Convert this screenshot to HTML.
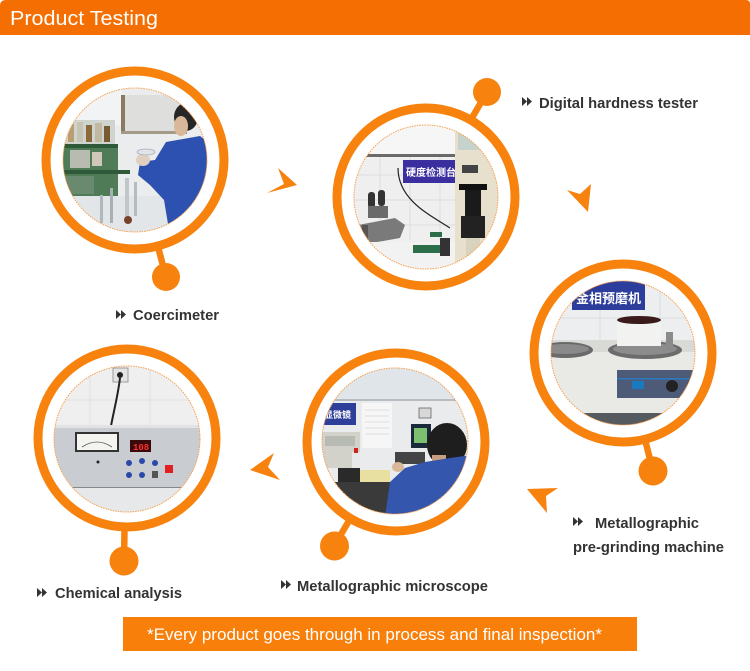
<!DOCTYPE html>
<html>
<head>
<meta charset="utf-8">
<style>
html,body{margin:0;padding:0;background:#fff;}
svg{display:block;}
</style>
</head>
<body>
<svg width="750" height="671" viewBox="0 0 750 671" xmlns="http://www.w3.org/2000/svg">
<defs>
  <clipPath id="p1"><circle cx="135" cy="160" r="72"/></clipPath>
  <clipPath id="p2"><circle cx="426" cy="197" r="72"/></clipPath>
  <clipPath id="p3"><circle cx="623" cy="353" r="72"/></clipPath>
  <clipPath id="p4"><circle cx="395" cy="441" r="73"/></clipPath>
  <clipPath id="p5"><circle cx="127" cy="439" r="73"/></clipPath>
</defs>
<rect width="750" height="671" fill="#fff"/>

<!-- Header -->
<path d="M0,6 Q0,0 6,0 L746,0 Q750,0 750,4 L750,35 L0,35 Z" fill="#f56e02"/>
<text x="10" y="25" font-family="Liberation Sans, sans-serif" font-size="20.5" fill="#fff" textLength="148" lengthAdjust="spacingAndGlyphs">Product Testing</text>

<!-- Stems -->
<g stroke="#f7820e" stroke-width="6.5" stroke-linecap="round">
  <line x1="135" y1="160" x2="166" y2="277"/>
  <line x1="426" y1="197" x2="487" y2="92"/>
  <line x1="623" y1="353" x2="653" y2="471"/>
  <line x1="396" y1="442" x2="334" y2="546"/>
  <line x1="126" y1="439" x2="124" y2="561"/>
</g>
<g fill="#f7820e">
  <circle cx="166" cy="277" r="14"/>
  <circle cx="487" cy="92" r="14"/>
  <circle cx="653" cy="471" r="14.5"/>
  <circle cx="334.5" cy="546" r="14.5"/>
  <circle cx="124" cy="561" r="14.5"/>
</g>
<!-- Rings -->
<g fill="#fff" stroke="#f7820e" stroke-width="9">
  <circle cx="135" cy="160" r="89"/>
  <circle cx="426" cy="197" r="89"/>
  <circle cx="623" cy="353" r="89"/>
  <circle cx="396" cy="442" r="89"/>
  <circle cx="127" cy="438" r="89"/>
</g>

<!-- Photo 1: lab chemist -->
<g clip-path="url(#p1)">
  <rect x="60" y="85" width="150" height="150" fill="#eaecee"/>
  <rect x="60" y="85" width="62" height="40" fill="#f2f3f4"/>
  <rect x="121" y="95" width="66" height="38" fill="#dedfdc"/>
  <rect x="121" y="95" width="4" height="38" fill="#8a7a60"/>
  <rect x="121" y="131" width="66" height="3" fill="#a59a88"/>
  <rect x="60" y="120" width="55" height="24" fill="#cfd4cf"/>
  <rect x="68" y="124" width="6" height="18" fill="#b9a074"/>
  <rect x="77" y="122" width="6" height="20" fill="#c8c4b4"/>
  <rect x="86" y="125" width="6" height="17" fill="#8a6a3a"/>
  <rect x="95" y="123" width="7" height="19" fill="#c0b8a0"/>
  <rect x="104" y="126" width="6" height="16" fill="#7a5a30"/>
  <rect x="60" y="144" width="58" height="52" fill="#4f7c56"/>
  <rect x="60" y="144" width="58" height="4" fill="#2f5a3a"/>
  <rect x="60" y="170" width="70" height="4" fill="#2f5a3a"/>
  <rect x="70" y="150" width="20" height="18" fill="#b8bcb0"/>
  <rect x="92" y="152" width="10" height="14" fill="#d0c8b8"/>
  <rect x="64" y="176" width="30" height="18" fill="#6a8a70"/>
  <rect x="60" y="196" width="150" height="40" fill="#e3e6e8"/>
  <rect x="100" y="195" width="3" height="28" fill="#b0b8bc"/>
  <rect x="110" y="188" width="3" height="35" fill="#a8b0b4"/>
  <rect x="125" y="178" width="4" height="40" fill="#c0c6ca"/>
  <rect x="134" y="182" width="3" height="34" fill="#b4bcc0"/>
  <circle cx="128" cy="220" r="4" fill="#7a4030"/>
  <ellipse cx="186" cy="117" rx="12" ry="14" fill="#262626"/>
  <ellipse cx="181" cy="126" rx="7" ry="10" fill="#d9b89a"/>
  <path d="M166,142 L200,136 L212,145 L212,236 L170,236 L164,200 L150,185 L138,175 L140,162 L155,160 Z" fill="#2c51b0"/>
  <ellipse cx="143" cy="160" rx="7" ry="6" fill="#e0d0c0"/>
  <ellipse cx="146" cy="152" rx="9" ry="3" fill="#dfe4e8" stroke="#aab" stroke-width="0.8"/>
</g>
<circle cx="135" cy="160" r="72" fill="none" stroke="#f5a050" stroke-width="1" stroke-dasharray="1.5 1"/>

<!-- Photo 2: hardness tester -->
<g clip-path="url(#p2)">
  <rect x="350" y="120" width="155" height="155" fill="#efefef"/>
  <rect x="350" y="120" width="155" height="35" fill="#f6f6f6"/>
  <rect x="350" y="154" width="106" height="3" fill="#6a6a6a"/>
  <g stroke="#d8d8d8" stroke-width="0.8">
    <line x1="350" y1="175" x2="455" y2="175"/>
    <line x1="350" y1="200" x2="455" y2="200"/>
    <line x1="350" y1="225" x2="455" y2="225"/>
    <line x1="380" y1="157" x2="380" y2="240"/>
    <line x1="410" y1="157" x2="410" y2="240"/>
    <line x1="440" y1="157" x2="440" y2="240"/>
  </g>
  <rect x="403" y="160" width="52" height="23" fill="#3b2fa0"/>
  <text x="406" y="176" font-family="Noto Sans CJK SC, WenQuanYi Zen Hei, sans-serif" font-size="10" font-weight="bold" fill="#fff">硬度检测台</text>
  <rect x="455" y="120" width="45" height="155" fill="#e6e0cc"/>
  <rect x="458" y="125" width="24" height="25" fill="#c6d2cc"/>
  <rect x="462" y="165" width="16" height="8" fill="#444"/>
  <rect x="459" y="184" width="28" height="6" fill="#111"/>
  <rect x="465" y="190" width="16" height="28" fill="#1a1a1a"/>
  <rect x="461" y="216" width="24" height="22" fill="#222"/>
  <rect x="466" y="238" width="14" height="25" fill="#d8d2be"/>
  <path d="M398,168 C398,200 430,215 450,228" stroke="#222" stroke-width="1.2" fill="none"/>
  <rect x="368" y="192" width="7" height="16" rx="3" fill="#333"/>
  <rect x="378" y="190" width="7" height="16" rx="3" fill="#333"/>
  <rect x="368" y="206" width="20" height="12" fill="#6a6a6a"/>
  <path d="M358,225 L395,218 L405,225 L400,238 L360,245 Z" fill="#7a7a7a"/>
  <rect x="362" y="225" width="6" height="35" fill="#555"/>
  <rect x="350" y="242" width="105" height="35" fill="#f2f2f2"/>
  <rect x="413" y="245" width="32" height="8" fill="#2c6e4a"/>
  <rect x="440" y="238" width="10" height="18" fill="#333"/>
  <rect x="430" y="232" width="12" height="5" fill="#2c6e4a"/>
</g>
<circle cx="426" cy="197" r="72" fill="none" stroke="#f5a050" stroke-width="1" stroke-dasharray="1.5 1"/>

<!-- Photo 3: pre-grinding machine -->
<g clip-path="url(#p3)">
  <rect x="548" y="278" width="150" height="150" fill="#eceeef"/>
  <g stroke="#d6d8da" stroke-width="0.8">
    <line x1="600" y1="310" x2="600" y2="340"/>
    <line x1="660" y1="285" x2="660" y2="340"/>
    <line x1="548" y1="318" x2="698" y2="318"/>
  </g>
  <rect x="572" y="278" width="73" height="32" fill="#2d3d9c"/>
  <text x="576" y="303" font-family="Noto Sans CJK SC, WenQuanYi Zen Hei, sans-serif" font-size="13" font-weight="bold" fill="#fff">金相预磨机</text>
  <rect x="548" y="340" width="150" height="14" fill="#d9d9d6"/>
  <rect x="548" y="352" width="150" height="62" fill="#e9e9e5"/>
  <ellipse cx="565" cy="350" rx="28" ry="8" fill="#6a6a6a"/>
  <ellipse cx="565" cy="349" rx="24" ry="5" fill="#8a8a8a"/>
  <ellipse cx="645" cy="350" rx="37" ry="9" fill="#6c6c6c"/>
  <ellipse cx="645" cy="349" rx="32" ry="6" fill="#8c8c8c"/>
  <rect x="617" y="320" width="44" height="26" fill="#f2f2f0"/>
  <ellipse cx="639" cy="320" rx="22" ry="4" fill="#3a1a1a"/>
  <rect x="666" y="332" width="7" height="18" fill="#8a8a8a"/>
  <rect x="617" y="370" width="80" height="28" fill="#4d5b78"/>
  <rect x="617" y="378" width="80" height="1.5" fill="#2a7ac0"/>
  <rect x="632" y="381" width="12" height="8" fill="#1a7ac0"/>
  <circle cx="672" cy="386" r="6" fill="#222"/>
  <rect x="548" y="413" width="150" height="15" fill="#555a5e"/>
</g>
<circle cx="623" cy="353" r="72" fill="none" stroke="#f5a050" stroke-width="1" stroke-dasharray="1.5 1"/>

<!-- Photo 4: microscope -->
<g clip-path="url(#p4)">
  <rect x="318" y="364" width="155" height="155" fill="#e9ebed"/>
  <rect x="318" y="364" width="155" height="36" fill="#dfe5e9"/>
  <rect x="318" y="399" width="155" height="2" fill="#b8bcc0"/>
  <rect x="322" y="403" width="34" height="22" fill="#2e3f9a"/>
  <text x="324" y="418" font-family="Noto Sans CJK SC, WenQuanYi Zen Hei, sans-serif" font-size="9" font-weight="bold" fill="#fff">显微镜</text>
  <rect x="362" y="403" width="30" height="45" fill="#f6f6f6"/>
  <g stroke="#c8c8c8" stroke-width="0.6">
    <line x1="365" y1="410" x2="389" y2="410"/><line x1="365" y1="416" x2="389" y2="416"/>
    <line x1="365" y1="422" x2="389" y2="422"/><line x1="365" y1="428" x2="389" y2="428"/>
    <line x1="365" y1="434" x2="389" y2="434"/>
  </g>
  <rect x="419" y="408" width="12" height="10" fill="#d8d8d8" stroke="#666" stroke-width="0.8"/>
  <rect x="411" y="424" width="20" height="24" fill="#1a2a3a"/>
  <rect x="414" y="428" width="13" height="15" fill="#7cc070"/>
  <rect x="322" y="432" width="38" height="36" fill="#d2d2ca"/>
  <rect x="325" y="436" width="30" height="10" fill="#b8bab4"/>
  <rect x="352" y="452" width="8" height="16" fill="#e8e8e8"/>
  <rect x="354" y="448" width="4" height="5" fill="#d02020"/>
  <rect x="338" y="468" width="22" height="30" fill="#2a2a2a"/>
  <rect x="360" y="470" width="30" height="12" fill="#e8e0a0"/>
  <rect x="318" y="482" width="80" height="35" fill="#3a3a3a"/>
  <rect x="395" y="452" width="30" height="12" fill="#444"/>
  <ellipse cx="447" cy="445" rx="20" ry="22" fill="#1e1e1e"/>
  <rect x="432" y="455" width="14" height="12" fill="#c8a080"/>
  <path d="M385,517 L390,482 L405,468 L425,462 L450,458 L472,455 L472,517 Z" fill="#3556ad"/>
  <ellipse cx="398" cy="467" rx="6" ry="5" fill="#d8b898"/>
</g>
<circle cx="395" cy="441" r="73" fill="none" stroke="#f5a050" stroke-width="1" stroke-dasharray="1.5 1"/>

<!-- Photo 5: coercimeter instrument -->
<g clip-path="url(#p5)">
  <rect x="50" y="362" width="155" height="155" fill="#efefef"/>
  <g stroke="#dcdcdc" stroke-width="0.8">
    <line x1="90" y1="362" x2="90" y2="425"/>
    <line x1="150" y1="362" x2="150" y2="425"/>
    <line x1="50" y1="400" x2="205" y2="400"/>
  </g>
  <rect x="113" y="368" width="15" height="14" fill="#e4e4e4" stroke="#888" stroke-width="0.8"/>
  <circle cx="120" cy="375" r="3" fill="#222"/>
  <path d="M120,378 C118,395 114,410 111,426" stroke="#222" stroke-width="2" fill="none"/>
  <rect x="50" y="425" width="155" height="62" fill="#c9cdd1"/>
  <rect x="50" y="425" width="155" height="3" fill="#e0e2e4"/>
  <rect x="76" y="433" width="42" height="18" fill="#f4f4f0" stroke="#333" stroke-width="2"/>
  <path d="M82,447 Q97,437 112,447" stroke="#555" stroke-width="0.8" fill="none"/>
  <circle cx="98" cy="462" r="1.5" fill="#222"/>
  <rect x="130" y="440" width="21" height="12" fill="#3a0a0a"/>
  <text x="133" y="450" font-family="Liberation Mono, monospace" font-size="9" font-weight="bold" fill="#ff3030">108</text>
  <g fill="#2a48a8">
    <circle cx="129" cy="463" r="3"/><circle cx="142" cy="461" r="3"/><circle cx="155" cy="463" r="3"/>
    <circle cx="129" cy="475" r="3"/><circle cx="142" cy="475" r="3"/>
  </g>
  <rect x="152" y="471" width="6" height="7" fill="#555"/>
  <rect x="165" y="465" width="8" height="8" fill="#e02020"/>
  <rect x="50" y="487" width="155" height="1.5" fill="#888"/>
  <rect x="50" y="488" width="155" height="30" fill="#e6e8ea"/>
</g>
<circle cx="127" cy="439" r="73" fill="none" stroke="#f5a050" stroke-width="1" stroke-dasharray="1.5 1"/>

<!-- Arrows -->
<g fill="#f7820e">
  <polygon points="278,168 297,185 267,193 284,184"/>
  <polygon points="567,190 580,194 591,184 588,212"/>
  <polygon points="527,489 558,488 546,496 547,513"/>
  <polygon points="274,453 268,467 280,480 250,470"/>
</g>

<!-- Labels -->
<g fill="#333">
  <polygon points="522,97 527,101.5 522,106"/><polygon points="527,97 532,101.5 527,106"/>
  <polygon points="116,310 121,314.5 116,319"/><polygon points="121,310 126,314.5 121,319"/>
  <polygon points="573,517 578,521.5 573,526"/><polygon points="578,517 583,521.5 578,526"/>
  <polygon points="281,580 286,584.5 281,589"/><polygon points="286,580 291,584.5 286,589"/>
  <polygon points="37,588 42,592.5 37,597"/><polygon points="42,588 47,592.5 42,597"/>
</g>
<g font-family="Liberation Sans, Arial, sans-serif" font-size="14.5" font-weight="bold" fill="#333">
  <text x="539" y="108" textLength="159" lengthAdjust="spacingAndGlyphs">Digital hardness tester</text>
  <text x="133" y="320" textLength="86" lengthAdjust="spacingAndGlyphs">Coercimeter</text>
  <text x="595" y="528" textLength="104" lengthAdjust="spacingAndGlyphs">Metallographic</text>
  <text x="573" y="552" textLength="151" lengthAdjust="spacingAndGlyphs">pre-grinding machine</text>
  <text x="297" y="591" textLength="191" lengthAdjust="spacingAndGlyphs">Metallographic microscope</text>
  <text x="55" y="598" textLength="127" lengthAdjust="spacingAndGlyphs">Chemical analysis</text>
</g>

<!-- Footer banner -->
<rect x="123" y="617" width="514" height="34" fill="#f77f0a"/>
<text x="147" y="640" font-family="Liberation Sans, Arial, sans-serif" font-size="17" fill="#fff" textLength="455" lengthAdjust="spacingAndGlyphs">*Every product goes through in process and final inspection*</text>
</svg>
</body>
</html>
